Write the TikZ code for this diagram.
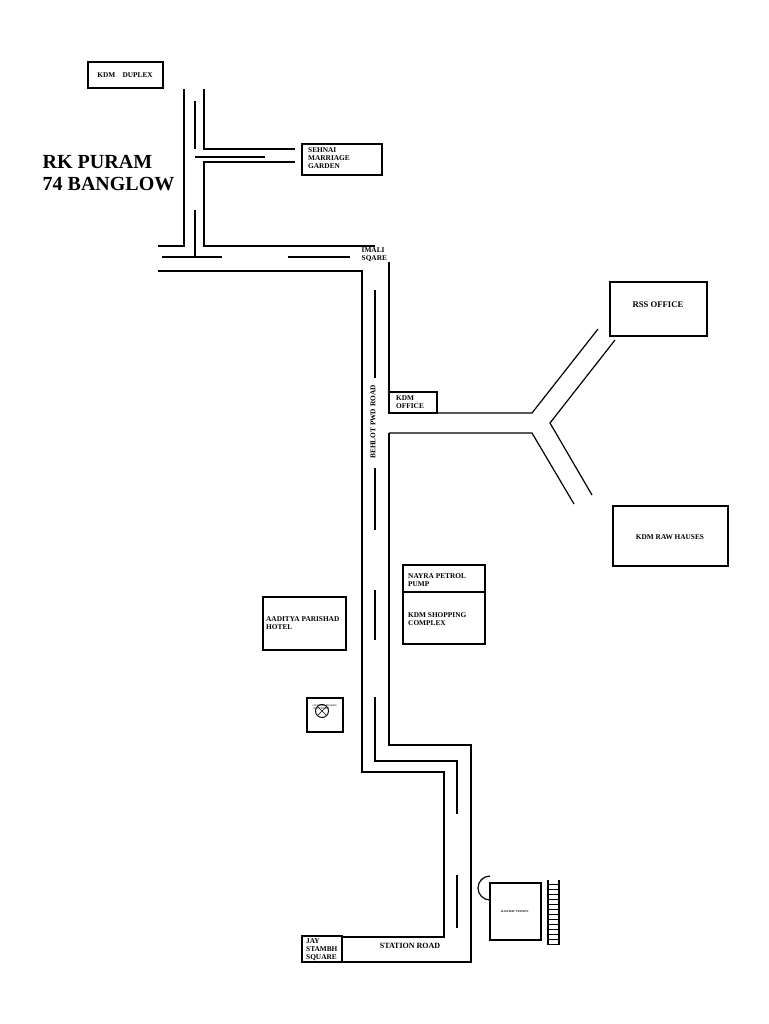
\documentclass[tikz,border=0pt]{standalone}
\usepackage{fontspec}
\setmainfont{Liberation Serif}
\tikzset{
  place/.style={draw, line width=0.8pt, align=left, font=\bfseries\fontsize{5.5}{6}\selectfont, inner sep=2pt},
  road/.style={line width=0.9pt},
}
\begin{document}
\begin{tikzpicture}[x=0.75pt, y=-0.75pt]
\useasboundingbox (0,0) rectangle (768,1024);
% title
\node[anchor=west, align=left, font=\bfseries\fontsize{15}{17}\selectfont] (title) at (38,173) {RK PURAM\\74 BANGLOW};
% places
\draw[place] (88,62) rectangle (163,88); \node[place, draw=none] (duplex) at (125,75) {KDM\quad DUPLEX};
\draw[place] (302,144) rectangle (382,175); \node[place, draw=none, anchor=north west] (sehnai) at (305,144) {SEHNAI\\MARRIAGE\\GARDEN};
\node[font=\bfseries\fontsize{5.5}{6}\selectfont, align=left, anchor=south west] (imali) at (357,266) {IMALI\\SQARE};
\draw[place] (610,282) rectangle (707,336); \node[font=\bfseries\fontsize{6.5}{7}\selectfont] (rss) at (658,305) {RSS OFFICE};
\draw[place] (389,392) rectangle (437,413); \node[place, draw=none, anchor=north west] (office) at (393,392) {KDM\\OFFICE};
\draw[place] (613,506) rectangle (728,566); \node[font=\bfseries\fontsize{5.5}{6}\selectfont] (raw) at (670,537) {KDM RAW HAUSES};
\draw[place] (403,565) rectangle (485,644); \draw[road] (403,592) -- (485,592);
\node[place, draw=none, anchor=north west] (nayra) at (405,570) {NAYRA PETROL\\PUMP};
\node[place, draw=none, anchor=north west] (shop) at (405,609) {KDM SHOPPING\\COMPLEX};
\draw[place] (263,597) rectangle (346,650); \node[place, draw=none, anchor=north west] (hotel) at (263,613) {AADITYA PARISHAD\\HOTEL};
\draw[place, line width=1.2pt] (307,698) rectangle (343,732);
\node[font=\fontsize{2}{2}\selectfont, align=left, anchor=north west] (temple) at (308,700) {CHANDRAPRABHU\\JAIN TEMPLE};
\draw[line width=0.7pt] (322,711) circle (6.5); \draw (317.5,706.5) -- (326.5,715.5) (317.5,715.5) -- (326.5,706.5);
\draw[place] (302,936) rectangle (342,962); \node[place, draw=none, anchor=north west] (jay) at (303,935) {JAY\\STAMBH\\SQUARE};
\node[font=\bfseries\fontsize{6}{7}\selectfont] (stroad) at (410,946) {STATION ROAD};
\draw[place] (490,883) rectangle (541,940); \node[font=\bfseries\fontsize{2.2}{2}\selectfont] (station) at (515,912) {RAILWAY STATION};
\draw[road] (490,900) arc (90:270:12);
\draw[road] (548,880) -- (548,945) (559,880) -- (559,945);
\foreach \r in {0,...,12} \draw (548,884+5*\r) -- (559,884+5*\r);
\node[rotate=90, font=\bfseries\fontsize{5.5}{6}\selectfont] (pwd) at (373,422) {BEHLOT PWD ROAD};
% roads
\draw[road] (184,89) -- (184,246) -- (158,246);
\draw[road] (204,89) -- (204,149) -- (295,149);
\draw[road] (295,162) -- (204,162) -- (204,246) -- (375,246);
\draw[road] (195,101) -- (195,149) (195,210) -- (195,258) (195,157) -- (265,157);
\draw[road] (162,257) -- (222,257) (288,257) -- (350,257);
\draw[road] (158,271) -- (362,271) -- (362,772) -- (444,772) -- (444,937) -- (342,937);
\draw[road] (389,262) -- (389,392);
\draw[road] (437,413) -- (532,413) -- (598,329);
\draw[road] (615,340) -- (550,423) -- (592,495);
\draw[road] (389,433) -- (532,433) -- (574,504);
\draw[road] (389,433) -- (389,745) -- (471,745) -- (471,962) -- (342,962);
\draw[road] (375,290) -- (375,378) (375,468) -- (375,530) (375,590) -- (375,640) (375,697) -- (375,761) -- (457,761) -- (457,814) (457,875) -- (457,928);
\end{tikzpicture}
\end{document}
